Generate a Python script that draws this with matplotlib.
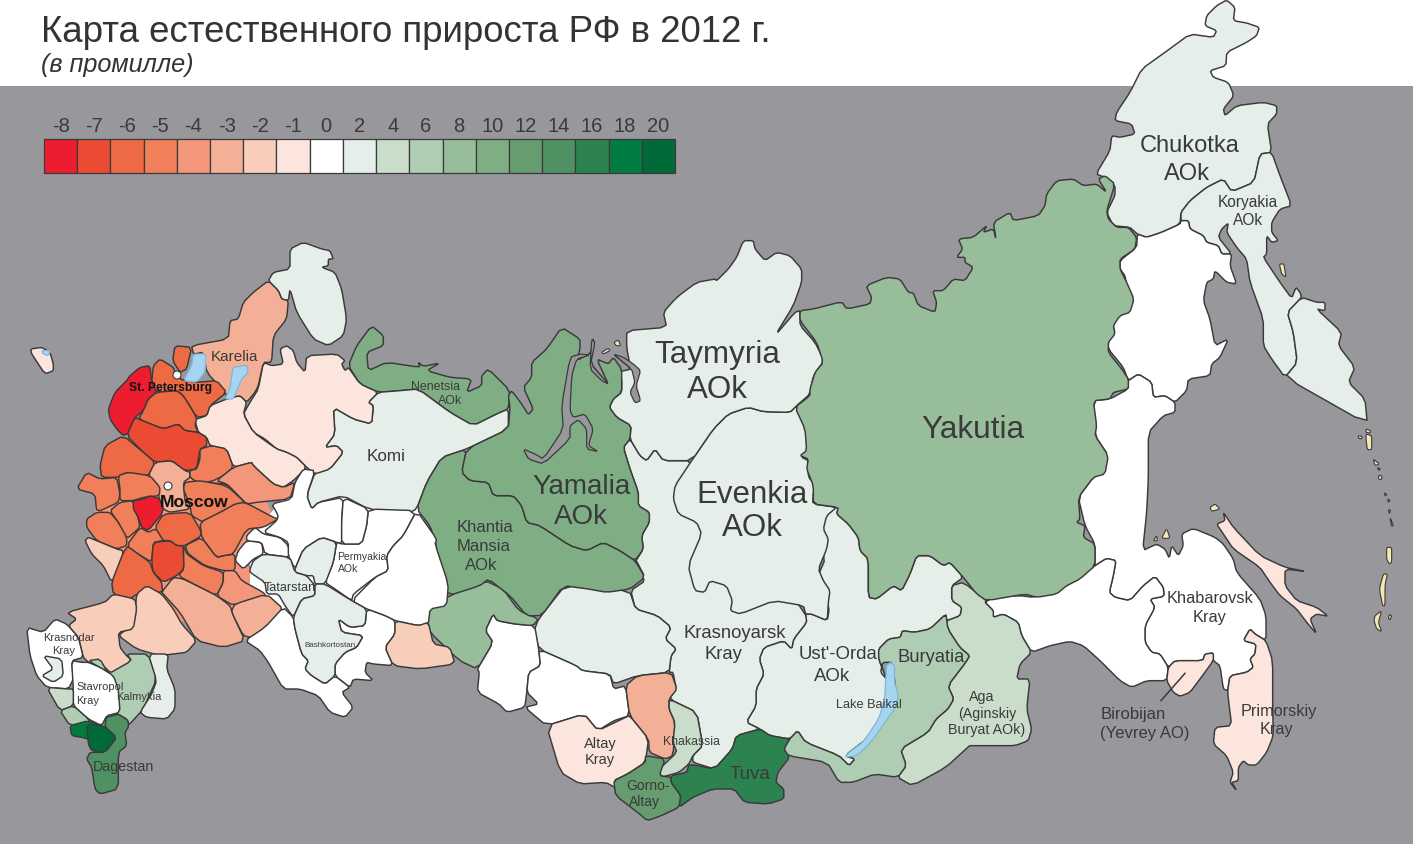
import matplotlib
matplotlib.use("Agg")
import matplotlib.pyplot as plt
from matplotlib.patches import Polygon, Rectangle, Circle

# legend classes, promille
legendValues = [-8, -7, -6, -5, -4, -3, -2, -1, 0, 2, 4, 6, 8, 10, 12, 14, 16, 18, 20]
legendColors = ['#ED1C2E', '#EC4B33', '#EE6A45', '#F07F5A', '#F3967A', '#F4B096', '#F8CDBA', '#FBE5DD', '#FFFFFF',
                '#E5EEE8', '#CADDCB', '#AFCDB2', '#97BD9B', '#7FAE85', '#659C70', '#4F9162', '#2C8350', '#007C41', '#006B38']
classColor = dict(zip(legendValues, legendColors))

GRAY = '#98979C'
LINE = '#3a3a3a'
TEXT = '#3a3a3a'
BLUE = '#A6D5F2'
CREAM = '#F5E8B5'


def z(x0, y0, pts, sx=3.0, sy=3.0):
    return [(x0 + a / sx, y0 + b / sy) for a, b in pts]


def NW(p): return z(20, 240, p)
def SW(p): return z(20, 520, p)
def RU(p): return z(60, 440, p)
def CEN(p): return z(400, 230, p)
def SIB(p): return z(420, 560, p, sx=1568 / 620)
def YAK(p): return z(780, 170, p)
def NE(p): return z(1050, 0, p)
def SE(p): return z(960, 480, p)


# ---------- Far east ----------
chukotka = NE([(530,3),(555,25),(550,65),(590,72),(628,85),(620,110),(590,130),(530,160),(528,200),(480,215),(490,235),(535,250),(552,290),(520,330),(525,350),(560,320),(640,310),(680,320),(680,345),(652,375),(665,460),(630,465),(612,550),(545,578),(520,540),(470,565),(420,605),(393,640),(390,675),(335,700),(290,715),(262,705),(240,685),(190,680),(170,640),(195,590),(195,560),(165,535),(138,525),(180,455),(185,410),(210,415),(255,405),(245,375),(195,365),(200,340),(240,280),(275,210),(345,160),(420,105),(490,115),(500,95),(465,80),(470,50),(500,20)])
koryakia = NE([(630,465),(665,460),(690,530),(725,620),(690,630),(665,670),(665,700),(685,725),(665,730),(650,710),(650,765),(640,775),(690,850),(725,898),(738,865),(750,880),(755,895),(712,940),(730,1000),(742,1090),(705,1135),(665,1080),(640,1040),(640,960),(600,850),(590,780),(560,745),(530,700),(535,672),(515,690),(505,715),(545,765),(515,765),(505,740),(470,730),(460,710),(420,690),(415,665),(393,665),(393,640),(420,605),(470,565),(520,540),(545,578),(612,550)])
kamchatka = NE([(755,895),(800,910),(825,910),(825,935),(800,930),(875,1000),(865,1040),(915,1105),(895,1150),(945,1200),(952,1275),(705,1135),(742,1090),(730,1000),(712,940)])
magadan = NE([(262,705),(290,715),(335,700),(390,675),(393,665),(415,665),(420,690),(460,710),(470,730),(505,740),(515,765),(545,765),(540,800),(560,855),(530,850),(495,815),(490,840),(470,850),(460,905),(480,960),(495,1040),(535,1020),(510,1075),(485,1095),(480,1130),(415,1140),(410,1175),(375,1210),(345,1190),(310,1195),(305,1150),(265,1125),(235,1145),(220,1105),(175,1050),(175,1015),(195,1000),(185,970),(215,935),(250,900),(230,860),(225,830),(210,810),(210,785),(260,745)])
khabarovsk = (NE([(375,1210),(375,1240),(340,1250),(295,1300),(295,1440)])
              + SE([(560,100),(548,215),(590,195),(615,210),(628,238),(635,200),(655,230),(670,200),(665,165),(700,148),(765,175),(790,195),(820,240),(830,280),(900,360),(918,410),(918,485),(885,465),(870,450),(850,485),(888,495),(885,525),(870,540),(880,565),(860,580),(810,590),(803,635),(790,630),(780,560),(760,545),(760,522),(735,525),(728,545),(645,545),(625,565),(600,525),(575,520),(555,490),(555,440),(585,385),(570,360),(612,352),(610,325),(585,292),(550,320),(510,365),(465,355),(448,340),(460,290),(468,245),(440,238),(405,260)])
              + YAK([(945,1190),(945,1125),(915,1070),(895,985),(940,925),(985,860),(945,800),(940,695),(990,690),(1045,660),(1045,630)])
              + NE([(235,1145),(265,1125),(305,1150),(310,1195),(345,1190)]))
amur = SE([(75,370),(100,355),(180,350),(220,355),(285,335),(330,315),(405,260),(440,238),(468,245),(460,290),(448,340),(465,355),(510,365),(550,320),(585,292),(610,325),(612,352),(570,360),(585,385),(555,440),(555,490),(575,520),(600,525),(625,565),(620,605),(560,605),(515,625),(480,605),(420,545),(370,500),(330,487),(270,500),(215,520),(185,470),(175,430),(130,405),(100,415),(100,395)])
birobijan = SE([(645,545),(728,545),(735,525),(760,522),(760,545),(720,600),(690,640),(660,652),(640,640),(620,605),(625,565)])
primorskiy = SE([(870,450),(885,465),(918,485),(938,545),(938,690),(940,770),(920,820),(890,858),(865,858),(850,845),(835,865),(835,905),(815,910),(830,935),(810,910),(820,880),(800,830),(760,795),(765,745),(815,740),(805,660),(803,635),(810,590),(860,580),(880,565),(870,540),(885,525),(888,495),(850,485)])
sakhalin = SE([(790,100),(820,145),(900,230),(975,265),(1040,278),(975,270),(975,320),(1010,365),(1070,385),(1105,412),(1070,405),(1050,420),(1070,465),(1040,430),(1010,390),(960,350),(930,310),(900,265),(820,210),(790,165),(770,135),(795,125)])
yakutia = YAK([(60,425),(100,420),(185,398),(200,420),(270,405),(275,385),(258,350),(320,325),(360,330),(385,370),(400,372),(415,410),(465,430),(470,400),(458,365),(490,365),(520,330),(555,335),(580,295),(555,280),(555,265),(530,265),(548,240),(535,210),(580,205),(620,170),(610,190),(640,180),(648,210),(640,160),(690,130),(700,155),(775,140),(795,110),(800,75),(830,35),(880,30),(910,50),(950,45),(980,70),(955,30),(975,20),(1005,45),(980,125),(985,150),(1010,175),(1045,175),(1070,205),(1065,240),(1020,270),(1020,300),(1040,340),(1062,390),(1050,430),(1020,440),(1000,470),(1005,495),(985,520),(985,550),(1025,600),(1045,630),(1045,660),(1000,670),(990,690),(940,695),(950,770),(945,800),(985,860),(975,915),(940,925),(895,985),(900,1050),(890,1060),(915,1070),(910,1105),(945,1125),(945,1190),(900,1230),(860,1250),(830,1275),(770,1285),(735,1275),(620,1295),(590,1275),(550,1225),(510,1180),(490,1190),(450,1160),(410,1160),(390,1215),(365,1265),(340,1250),(290,1290),(265,1285),(265,1170),(240,1145),(235,1105),(205,1065),(170,1035),(175,1015),(100,1005),(100,950),(80,900),(85,870),(60,860),(80,845),(75,780),(45,715),(90,680),(90,660),(105,610),(130,580),(110,520),(60,455)])

# ---------- Siberia ----------
aga = (YAK([(620,1295),(550,1240),(515,1250),(515,1295),(545,1315),(540,1340),(500,1355)])
       + SIB([(1330,165),(1335,210),(1365,265),(1390,290),(1380,310),(1335,380),(1350,420),(1335,450),(1305,480),(1285,520),(1215,570),(1230,620),(1208,655),(1245,680),(1330,625),(1390,560)])
       + SE([(30,800),(100,800),(165,800),(205,785),(215,750),(200,690),(210,600),(170,600),(180,555),(215,520),(185,470),(175,430),(130,405),(100,415),(100,395),(75,370)]))
irkutsk = (YAK([(100,1005),(175,1015),(170,1035),(205,1065),(235,1105),(240,1145),(265,1170),(265,1285),(290,1290),(340,1250),(365,1265),(390,1215),(410,1160),(450,1160),(490,1190),(510,1180),(550,1225),(515,1250),(515,1295),(545,1315),(540,1340),(500,1355)])
           + SIB([(1330,165),(1290,210),(1250,220),(1220,215),(1215,235),(1185,240),(1160,270),(1160,300),(1180,360),(1205,410),(1175,465),(1130,540),(1075,590),(1100,600),(1085,620),(1060,590),(975,550),(955,515),(935,540),(885,530),(860,510),(825,490),(850,440),(850,390),(870,345),(858,300),(870,265),(920,245),(940,270),(945,240),(978,190),(975,165),(990,165),(1030,185),(1035,150),(1025,120),(1035,100),(1005,55),(1025,0)]))
buryatia = SIB([(1160,270),(1185,240),(1215,235),(1220,215),(1250,220),(1290,210),(1330,165),(1335,210),(1365,265),(1390,290),(1380,310),(1335,380),(1350,420),(1335,450),(1305,480),(1285,520),(1215,570),(1230,620),(1208,655),(1150,645),(1095,670),(1060,670),(1030,610),(930,590),(920,570),(935,540),(955,515),(975,550),(1060,590),(1085,620),(1100,600),(1075,590),(1130,540),(1175,465),(1205,410),(1195,310),(1170,310),(1165,340),(1180,360),(1160,300)])
baikal = SIB([(1190,310),(1200,320),(1200,370),(1210,410),(1200,450),(1170,500),(1140,550),(1105,590),(1075,595),(1085,580),(1120,550),(1160,480),(1175,420),(1178,360),(1180,320)])
krasnoyarsk = (CEN([(690,630),(720,680),(740,695),(765,660),(790,695),(875,695),(1000,900),(1100,1000)])
               + SIB([(975,165),(978,190),(945,240),(940,270),(920,245),(870,265),(858,300),(870,345),(850,390),(850,440),(825,490),(860,510),(800,530),(790,570),(745,630),(690,610),(690,590),(715,560),(700,460),(630,420),(648,390),(640,340),(630,340),(635,290),(648,270),(620,240),(635,205),(600,170),(545,150),(533,95),(570,65),(545,35),(545,0)])
               + CEN([(735,1045),(705,1000),(730,960),(725,920),(748,880),(748,850),(715,830),(715,790),(690,720),(670,655)]))
evenkia = (CEN([(875,695),(940,600),(985,555),(1045,535),(1090,548),(1170,550),(1190,530),(1220,610),(1220,680),(1205,685),(1225,695),(1225,745),(1250,770),(1240,790),(1238,825),(1310,835),(1280,860),(1270,900),(1285,930),(1280,960),(1255,1020),(1270,1055),(1290,1085),(1285,1120)])
           + SIB([(1030,185),(990,165),(975,165),(970,140),(895,125),(810,165),(785,155),(790,125),(775,80),(733,65),(720,100),(695,95),(678,20)])
           + CEN([(905,915),(890,880),(835,855),(820,810),(825,770)]))
taymyria = CEN([(680,305),(800,295),(790,250),(830,205),(890,160),(945,150),(950,155),(985,120),(1010,85),(1030,35),(1060,35),(1065,60),(1095,95),(1130,70),(1170,80),(1205,120),(1205,160),(1180,230),(1125,320),(1185,250),(1200,245),(1200,290),(1245,340),(1272,395),(1240,440),(1230,495),(1190,530),(1170,550),(1090,548),(1045,535),(985,555),(940,600),(875,695),(790,695),(765,660),(740,695),(720,680),(690,630),(693,590),(650,565),(628,535),(640,510),(665,490),(665,450),(650,430),(695,420),(640,375),(670,395),(690,410),(680,355)])
yenisei = CEN([(640,375),(670,385),(700,405),(722,425),(708,470),(722,515),(705,522),(690,490),(705,460),(695,420)])
tuva = SIB([(860,510),(885,530),(935,540),(920,570),(935,595),(905,640),(900,670),(920,690),(920,720),(880,735),(820,730),(795,690),(740,690),(690,715),(655,745),(660,710),(635,670),(635,650),(675,640),(680,615),(745,630),(790,570),(800,530)])
gornoAltay = SIB([(570,590),(620,600),(605,650),(635,655),(635,670),(660,710),(655,745),(610,770),(575,785),(550,760),(495,710),(490,665),(525,645),(570,610)])
khakassia = SIB([(630,420),(700,460),(715,560),(690,590),(680,615),(655,640),(610,655),(605,630),(650,580),(640,550),(645,490),(630,450)])
kemerovo = SIB([(520,380),(550,350),(635,340),(650,390),(630,420),(630,450),(645,490),(640,590),(620,600),(580,580),(578,540),(530,470)])
altayKray = SIB([(320,500),(415,465),(450,515),(520,475),(530,470),(578,540),(570,610),(525,645),(490,665),(500,690),(470,670),(405,675),(355,640)])
novosibirsk = SIB([(300,270),(395,320),(410,335),(480,345),(490,390),(520,380),(530,470),(490,485),(450,515),(415,465),(320,500),(265,445),(300,435),(270,400),(275,340),(305,320)])
tomsk = SIB([(300,180),(370,75),(530,95),(545,150),(600,170),(635,205),(620,240),(648,270),(635,290),(630,340),(550,350),(490,375),(480,345),(410,335),(395,320),(300,270),(290,210)])
omsk = SIB([(185,165),(195,185),(240,195),(290,200),(300,270),(305,320),(275,340),(270,400),(265,445),(220,460),(200,435),(145,400),(150,340),(145,330),(185,250),(165,215)])
tyumen = SIB([(25,150),(75,110),(165,65),(210,90),(250,155),(300,180),(285,200),(240,195),(195,185),(185,165),(165,215),(185,250),(145,330),(100,305),(25,220),(20,190)])

# ---------- Ob-Ural north ----------
khantia = CEN([(50,840),(80,760),(125,685),(200,660),(185,730),(210,755),(265,760),(280,800),(340,800),(365,830),(380,880),(420,890),(510,950),(560,965),(610,940),(660,965),(705,995),(735,1045),(690,1080),(620,1090),(565,1080),(490,1070),(425,1160),(380,1160),(330,1100),(265,1050),(240,1070),(145,1100),(110,1040),(110,950),(90,890)])
yamalia = CEN([(200,660),(325,600),(330,535),(325,500),(335,485),(365,525),(385,557),(400,540),(370,475),(395,445),(395,400),(440,360),(485,295),(540,330),(540,360),(530,395),(575,370),(580,325),(570,400),(610,450),(625,465),(590,390),(625,405),(640,385),(665,420),(665,490),(640,510),(628,535),(650,565),(693,590),(690,630),(670,655),(690,720),(715,790),(715,830),(748,850),(748,880),(725,920),(730,960),(705,995),(660,965),(610,940),(560,965),(510,950),(420,890),(380,880),(365,830),(340,800),(280,800),(265,760),(210,755),(185,730)])
obBay = CEN([(510,385),(540,375),(570,378),(530,390),(515,440),(510,545),(520,565),(555,555),(580,600),(565,650),(595,668),(560,660),(560,600),(535,572),(510,590),(510,630),(430,705),(385,690),(370,660),(405,675),(430,690),(490,600),(485,530)])
tazBay = CEN([(575,330),(585,340),(572,405),(625,465),(605,455),(570,420)])
nenetsia = (NW([(985,380),(1010,320),(1055,260),(1090,290),(1090,320),(1040,340),(1045,395),(1100,370),(1200,385)])
            + CEN([(55,400),(70,412),(120,402),(80,425),(150,445),(215,450),(200,490),(245,470),(245,440),(265,420),(330,485),(325,540),(290,555),(220,590),(150,550),(55,480),(0,485)])
            + NW([(1075,460),(1020,435)]))
komi = (NW([(1075,460)])
        + CEN([(0,485),(55,480),(150,550),(220,590),(290,555),(325,540),(325,600),(200,660),(125,685),(80,760),(50,840)])
        + NW([(1160,825),(1045,810),(970,770),(895,790),(875,810),(860,770),(885,700),(930,690),(970,640),(950,620),(915,625),(945,585),(940,505),(1000,540),(1055,555),(1060,500),(1045,490)]))

# ---------- European north ----------
arkhangelsk = NW([(730,370),(755,380),(790,375),(780,330),(800,320),(820,335),(830,370),(855,400),(860,350),(950,345),(975,365),(965,375),(975,395),(985,385),(1020,435),(1075,460),(1045,490),(1060,500),(1055,555),(1000,540),(940,505),(945,585),(915,625),(950,620),(970,640),(930,690),(885,705),(860,685),(830,655),(800,640),(770,630),(735,600),(700,580),(670,525),(690,490),(715,450)])
kola = NW([(745,125),(760,100),(810,90),(810,30),(850,10),(905,30),(930,35),(940,60),(925,60),(925,80),(905,85),(945,100),(965,150),(980,240),(970,290),(925,320),(880,300),(830,220),(810,150),(805,185),(785,180),(775,155)])
karelia = NW([(745,125),(775,155),(785,180),(805,185),(800,240),(760,290),(755,370),(730,370),(715,440),(705,460),(680,490),(660,470),(625,480),(615,460),(560,400),(550,340),(520,345),(515,320),(625,300),(630,245),(655,240),(670,190),(700,160)])
vyborg = NW([(465,320),(515,325),(500,390),(480,400),(458,365)])
ladoga = NW([(520,345),(558,345),(555,400),(530,430),(490,425),(515,380)])
onega = NW([(640,385),(680,378),(685,400),(665,420),(640,480),(615,480),(630,450),(635,410)])
leningrad = NW([(400,380),(420,360),(460,385),(465,400),(480,420),(500,425),(530,430),(590,425),(620,460),(570,500),(560,530),(530,535),(490,470),(470,455),(410,460),(395,430)])
pskov = NW([(330,410),(360,385),(390,380),(395,430),(410,460),(385,480),(370,515),(345,535),(330,580),(310,590),(290,570),(270,540),(265,510),(285,460),(320,425)])
novgorod = NW([(410,460),(470,455),(490,470),(530,535),(525,560),(535,580),(495,575),(475,555),(430,570),(355,540),(370,515),(385,480)])
tver = NW([(355,540),(430,570),(475,555),(495,575),(535,580),(560,595),(560,620),(540,630),(530,690),(495,695),(455,665),(405,670),(370,640),(320,590),(345,535)])
smolensk = NW([(310,590),(370,640),(405,670),(385,710),(350,715),(320,700),(295,715),(245,715),(240,680),(255,620)])
vologda = NW([(530,540),(560,530),(570,500),(620,480),(660,470),(680,490),(670,525),(700,580),(770,630),(800,640),(830,655),(860,685),(820,725),(790,745),(760,735),(700,680),(695,670),(640,685),(620,630),(570,620),(560,595),(535,580),(525,545)])
moscowObl = NW([(385,710),(405,670),(455,665),(495,695),(510,700),(510,715),(490,730),(495,790),(510,810),(450,820),(430,810),(415,770),(415,740)])
yaroslavl = NW([(540,630),(575,620),(620,630),(640,685),(610,710),(580,725),(540,735),(510,715),(510,695),(530,690),(540,660)])
kostroma = NW([(590,725),(640,685),(695,670),(700,680),(760,735),(790,745),(825,730),(810,780),(710,790),(680,795),(650,765),(620,735)])
ivanovo = NW([(545,730),(620,735),(650,765),(675,795),(640,815),(610,795),(560,770),(540,750)])
kaliningrad = NW([(32,330),(65,325),(90,340),(100,375),(100,395),(75,405),(35,345)])
kaliningradLagoon = NW([(65,335),(90,335),(85,350),(70,345)])

# ---------- Central Russia ----------
vladimir = RU([(375,130),(420,125),(500,140),(555,190),(530,200),(490,215),(430,250),(395,230),(390,200),(370,150)])
bryansk = RU([(80,100),(120,120),(170,115),(180,165),(175,190),(110,220),(105,165),(50,150)])
kaluga = RU([(175,110),(205,100),(270,110),(300,145),(298,170),(250,175),(220,185),(180,185),(180,150)])
tula = RU([(220,185),(250,180),(270,170),(300,180),(310,220),(265,275),(245,265),(235,235),(220,210)])
orel = RU([(150,215),(180,190),(220,185),(235,240),(240,265),(200,300),(175,250)])
kursk = RU([(80,240),(110,220),(150,220),(175,250),(200,295),(200,320),(170,330),(110,305),(80,265)])
belgorod = RU([(75,305),(85,295),(110,305),(170,330),(190,335),(180,385),(155,430),(130,380),(95,345)])
voronezh = RU([(205,320),(235,345),(270,370),(280,400),(305,430),(308,460),(230,465),(210,480),(160,465),(155,430),(190,340)])
lipetsk = RU([(200,320),(240,265),(265,280),(285,270),(308,285),(310,305),(280,310),(275,370),(235,345)])
ryazan = RU([(285,265),(310,225),(390,220),(420,270),(425,290),(375,320),(350,320),(330,305),(310,305)])
tambov = RU([(280,310),(330,305),(350,320),(370,320),(372,390),(350,410),(310,430),(280,400),(275,370)])
penza = RU([(370,320),(380,345),(430,380),(490,400),(490,430),(470,470),(410,440),(355,410),(372,390)])
mordovia = RU([(425,295),(470,355),(490,350),(525,345),(525,395),(490,395),(435,380),(385,345),(375,320)])
nizhny = RU([(420,250),(490,215),(525,195),(555,190),(640,235),(655,240),(610,265),(560,270),(520,345),(490,350),(470,355),(425,295)])
saratov = RU([(305,460),(340,415),(370,420),(410,440),(470,470),(510,500),(520,530),(555,605),(490,625),(410,605),(360,520),(310,465)])
samara = RU([(470,470),(490,430),(490,395),(525,395),(545,425),(610,460),(620,475),(520,500)])
orenburgW = RU([(515,515),(525,495),(620,465),(670,510),(640,560),(580,597),(550,590),(520,530)])
volgograd = RU([(230,465),(260,440),(305,465),(340,510),(365,555),(410,605),(380,640),(340,645),(300,650),(230,630),(175,590),(200,570),(225,520)])

# ---------- South ----------
rostov = SW([(140,280),(255,250),(280,225),(345,240),(350,270),(340,330),(295,340),(300,385),(315,405),(335,425),(280,470),(240,430),(205,430),(190,415),(175,355),(145,320),(170,300)])
krasnodar = SW([(20,325),(70,340),(105,300),(140,315),(175,355),(190,415),(155,425),(160,480),(145,510),(80,505),(50,470),(30,410)])
adygea = SW([(70,410),(125,420),(130,470),(100,490),(65,470),(100,450)])
stavropol = SW([(155,425),(185,430),(205,430),(240,445),(280,470),(295,510),(300,580),(260,590),(245,620),(205,600),(160,560),(160,510)])
kalmykia = SW([(205,425),(240,420),(265,465),(335,425),(320,405),(385,405),(410,480),(370,570),(325,620),(320,600),(290,585),(300,570),(280,470)])
astrakhan = SW([(385,405),(445,405),(440,450),(465,510),(465,570),(440,600),(380,595),(360,580),(395,525),(410,485)])
karachay = SW([(80,505),(145,510),(160,510),(160,560),(120,575)])
ossetia = SW([(120,575),(160,560),(205,600),(210,615),(150,620)])
ingushetia = SW([(150,620),(205,605),(250,625),(250,640),(205,660),(185,655),(155,650)])
chechnya = SW([(200,615),(250,620),(290,655),(255,700),(215,695),(205,675)])
dagestan = SW([(258,595),(295,585),(325,605),(325,625),(315,640),(320,680),(295,700),(295,810),(240,825),(225,810),(215,745),(200,720),(210,700),(255,700),(290,655),(255,625)])

# ---------- Volga / Ural ----------
mari = SW([(680,65),(725,70),(730,105),(700,120),(670,150),(645,125),(655,95)])
chuvashia = SW([(680,50),(705,25),(730,45),(780,55),(805,80),(810,115),(735,105),(725,70),(680,65)])
kirov = SW([(825,-110),(850,-150),(885,-145),(860,-70),(875,-30),(895,-50),(970,-65),(965,5),(965,75),(950,70),(905,55),(850,90),(825,150),(805,110),(805,70),(780,55),(730,40),(770,5),(775,-10),(755,-45),(815,-60)])
udmurtia = SW([(850,90),(905,55),(950,70),(940,130),(915,195),(885,195),(880,170),(860,170),(825,160),(825,150)])
perm = SW([(965,75),(1025,75),(1040,20),(1045,-30),(1190,-25),(1150,50),(1120,80),(1100,110),(1105,155),(1065,175),(1000,225),(995,245),(945,210),(915,190),(940,130),(950,70)])
permyakia = SW([(970,-65),(1045,-30),(1040,20),(1025,75),(965,75),(965,5)])
sverdlovsk = SW([(1190,-25),(1250,60),(1245,75),(1285,195),(1280,260),(1230,270),(1225,315),(1195,320),(1125,305),(1095,290),(1040,270),(995,245),(1065,175),(1105,155),(1100,110),(1120,80),(1150,50)])
tatarstan = SW([(690,150),(700,125),(730,105),(810,115),(825,160),(860,170),(885,200),(885,230),(845,240),(820,295),(795,260),(775,225),(740,225),(735,190),(690,160)])
bashkortostan = SW([(885,195),(915,195),(995,245),(1040,270),(1035,320),(990,325),(955,300),(965,340),(1030,350),(1010,385),(975,400),(945,435),(945,470),(915,495),(875,470),(855,450),(865,425),(845,405),(825,330),(820,295),(845,240),(885,230)])
chelyabinsk = SW([(1040,270),(1095,290),(1125,305),(1125,345),(1095,385),(1120,440),(1060,435),(1040,430),(1035,460),(1060,485),(1000,480),(990,505),(945,470),(945,435),(975,400),(1010,385),(1030,350),(965,340),(955,300),(990,325),(1035,320)])
orenburg = SW([(675,365),(735,325),(790,265),(820,295),(825,330),(845,405),(865,425),(855,450),(875,470),(915,495),(945,470),(990,505),(965,520),(1000,565),(975,595),(930,580),(895,530),(840,510),(790,510),(745,430),(720,395)])
kurgan = SW([(1125,305),(1195,320),(1225,310),(1240,375),(1290,385),(1305,435),(1200,450),(1120,440),(1095,385),(1125,345)])

# backing under the small regions, my outlines do not meet exactly everywhere
backings = [
    ([(130,440),(150,410),(200,425),(250,470),(275,520),(240,560),(280,600),(245,640),(140,610),(140,600),(115,585),(105,560),(95,530),(95,495),(112,470)], -4),
    ([(250,540),(290,490),(340,490),(420,500),(440,600),(400,640),(320,690),(280,640),(250,590)], 0),
]

# region outline, class. Painted in this order, later ones sit on top
regions = [
    (chukotka, 2), (koryakia, 2), (kamchatka, 2), (magadan, 0), (khabarovsk, 0), (amur, 0),
    (birobijan, -1), (primorskiy, -1), (sakhalin, -1), (aga, 4), (irkutsk, 2), (buryatia, 6),
    (krasnoyarsk, 2), (evenkia, 2), (taymyria, 2), (yakutia, 8), (tomsk, 2), (omsk, 0), (novosibirsk, 0),
    (tyumen, 8), (kemerovo, -3), (altayKray, -1), (khakassia, 4), (gornoAltay, 12), (tuva, 16),
    (nenetsia, 10), (komi, 2), (khantia, 10), (yamalia, 10),
    (kola, 2), (arkhangelsk, -1), (karelia, -3), (vologda, -1), (vyborg, -6), (leningrad, -6),
    (pskov, -8), (novgorod, -6), (tver, -7), (smolensk, -6), (moscowObl, -3), (yaroslavl, -5),
    (kostroma, -4), (ivanovo, -6), (kaliningrad, -1),
    (vladimir, -5), (bryansk, -5), (kaluga, -5), (orel, -5), (kursk, -5), (belgorod, -2), (voronezh, -6),
    (lipetsk, -5), (ryazan, -6), (tula, -8), (tambov, -7), (penza, -5), (mordovia, -5), (nizhny, -5),
    (saratov, -3), (samara, -4), (orenburgW, -3), (volgograd, -2), (rostov, -2),
    (krasnodar, 0), (adygea, 2), (kalmykia, 6), (stavropol, 0), (astrakhan, 2), (karachay, 4), (ossetia, 6),
    (dagestan, 14), (ingushetia, 18), (chechnya, 20),
    (mari, 0), (chuvashia, 0), (kirov, 0), (perm, 0), (permyakia, 0), (udmurtia, 2), (sverdlovsk, 0),
    (orenburg, 0), (chelyabinsk, 0), (tatarstan, 2), (bashkortostan, 2), (kurgan, -2),
]

waters = [(ladoga, BLUE), (onega, BLUE), (kaliningradLagoon, BLUE), (baikal, BLUE),
          (obBay, GRAY), (tazBay, GRAY), (yenisei, GRAY)]

# small islands, no data for them
islands = [SE([(750,85),(765,75),(780,90),(755,97)]), SE([(605,178),(620,148),(630,178)]),
           SE([(580,185),(590,170),(592,185)]),
           NE([(688,795),(702,795),(708,835),(695,825)]),
           CEN([(605,370),(625,358),(630,365),(610,375)]), CEN([(642,340),(655,333),(662,350),(648,350)]),
           z(1340, 420, [(78,30),(92,35),(90,42),(78,40)]),
           z(1340, 420, [(78,45),(95,50),(95,92),(82,92),(78,60)]),
           z(1340, 420, [(100,120),(118,135),(105,140)]),
           z(1340, 420, [(150,295),(160,320),(155,322)]),
           z(1340, 420, [(140,385),(155,385),(155,430),(148,435),(140,420)]),
           z(1340, 420, [(130,465),(142,465),(135,500),(135,560),(128,560),(118,510)]),
           z(1340, 420, [(105,590),(125,575),(115,610),(125,638),(110,630),(102,605)]),
           z(1340, 420, [(55,50),(66,52),(64,60),(56,58)]), z(1340, 420, [(116,170),(126,170),(124,182),(116,180)]),
           z(1340, 420, [(112,147),(120,148),(118,155)]), z(1340, 420, [(132,222),(141,226),(136,231)]),
           z(1340, 420, [(143,240),(150,244),(145,250)]), z(1340, 420, [(145,272),(152,274),(148,284)]),
           z(1340, 420, [(148,587),(155,590),(150,603),(145,598)])]

# map labels: text, x, y, font size
labels = [
    ("Karelia", 234, 356, 11), ("Komi", 386, 455, 12.3), ("Nenetsia", 436, 386, 8.9), ("AOk", 450, 400, 8.9),
    ("Yamalia", 581, 486, 20), ("AOk", 581, 516, 20),
    ("Khantia", 485, 526, 12), ("Mansia", 484, 545, 12), ("AOk", 481, 564, 12),
    ("Taymyria", 717, 354, 22.6), ("AOk", 717, 389, 22.6), ("Evenkia", 752, 494, 22.5), ("AOk", 752, 527, 22.5),
    ("Yakutia", 973, 429, 22.8), ("Chukotka", 1190, 145, 17), ("AOk", 1187, 172, 17),
    ("Koryakia", 1248, 201, 11.2), ("AOk", 1248, 219, 11.2),
    ("Krasnoyarsk", 735, 632, 13.3), ("Kray", 723, 653, 13.3), ("Ust'-Orda", 838, 653, 13.4), ("AOk", 832, 675, 13.4),
    ("Buryatia", 931, 656, 13.2), ("Lake Baikal", 869, 704, 9.2),
    ("Aga", 982, 696, 10.3), ("(Aginskiy", 987, 713, 10.3), ("Buryat AOk)", 987, 729, 10.3),
    ("Khabarovsk", 1210, 597, 11.8), ("Kray", 1210, 616, 11.8), ("Birobijan", 1133, 713, 12),
    ("(Yevrey AO)", 1145, 732, 12), ("Primorskiy", 1279, 710, 11.7), ("Kray", 1276, 728, 11.7),
    ("Tuva", 750, 773, 13.5), ("Gorno-", 648, 785, 10), ("Altay", 644, 801, 10),
    ("Altay", 600, 743, 10.5), ("Kray", 600, 759, 10.5), ("Khakassia", 692, 741, 8.8),
    ("Dagestan", 124, 766, 10.3), ("Kalmykia", 139, 696, 8), ("Stavropol", 100, 686, 8), ("Kray", 88, 700, 8),
    ("Krasnodar", 69, 637, 8), ("Kray", 64, 650, 8), ("Tatarstan", 290, 587, 9), ("Bashkortostan", 330, 644, 5.8),
    ("Permyakia", 362, 556, 7.5), ("AOk", 348, 568, 7.5),
]
boldLabels = [("St. Petersburg", 171, 387, 8.7), ("Moscow", 194, 502, 12.6)]
cities = [(177, 376), (168, 487)]
leader = SE([(675,583),(603,665)])

plt.rcParams['font.family'] = ['Liberation Sans', 'DejaVu Sans']

fig = plt.figure(figsize=(14.13, 8.45), dpi=100, facecolor='white')
ax = fig.add_axes([0, 0, 1, 1])
ax.set_xlim(0, 1413)
ax.set_ylim(845, 0)
ax.axis('off')

ax.add_patch(Rectangle((0, 87), 1413, 758, facecolor=GRAY, edgecolor='none', zorder=0))


def smooth(pts, n=1):
    # corner cutting so the borders do not look too angular
    for _ in range(n):
        out = []
        for i in range(len(pts)):
            a, b = pts[i], pts[(i + 1) % len(pts)]
            out.append((0.85 * a[0] + 0.15 * b[0], 0.85 * a[1] + 0.15 * b[1]))
            out.append((0.15 * a[0] + 0.85 * b[0], 0.15 * a[1] + 0.85 * b[1]))
        pts = out
    return pts


for outline, value in backings:
    ax.add_patch(Polygon(outline, closed=True, facecolor=classColor[value], edgecolor='none', zorder=1))
for outline, value in regions:
    ax.add_patch(Polygon(smooth(outline), closed=True, facecolor=classColor[value], edgecolor=LINE,
                         linewidth=1.05, joinstyle='round', zorder=2))
for outline, color in waters:
    ax.add_patch(Polygon(smooth(outline), closed=True, facecolor=color,
                         edgecolor=LINE if color == GRAY else '#7FB6D8', linewidth=0.9, zorder=3))
for outline in islands:
    ax.add_patch(Polygon(smooth(outline), closed=True, facecolor=CREAM, edgecolor=LINE, linewidth=0.8, zorder=3))

ax.plot([leader[0][0], leader[1][0]], [leader[0][1], leader[1][1]], color=LINE, linewidth=1.1, zorder=4)

for x, y in cities:
    ax.add_patch(Circle((x, y), 4, facecolor='white', edgecolor=LINE, linewidth=0.8, zorder=5))

for t, x, y, size in labels:
    ax.text(x, y + 1.5, t, fontsize=size, color=TEXT, ha='center', va='center', zorder=6)
for t, x, y, size in boldLabels:
    ax.text(x, y + 1, t, fontsize=size, color='#111111', fontweight='bold', ha='center', va='center', zorder=6)

# legend
cellW = 631 / len(legendValues)
for i, value in enumerate(legendValues):
    ax.add_patch(Rectangle((44 + i * cellW, 140), cellW, 34, facecolor=classColor[value], edgecolor=LINE, linewidth=0.9, zorder=4))
    ax.text(44 + (i + 0.5) * cellW, 126, str(value), fontsize=14.5, color=TEXT, ha='center', va='center', zorder=6)

ax.text(41, 32, "Карта естественного прироста РФ в 2012 г.", fontsize=26.4, color='#333333', ha='left', va='center')
ax.text(41, 65, "(в промилле)", fontsize=18.2, style='italic', color='#333333', ha='left', va='center')

fig.savefig('out.png', dpi=100)
